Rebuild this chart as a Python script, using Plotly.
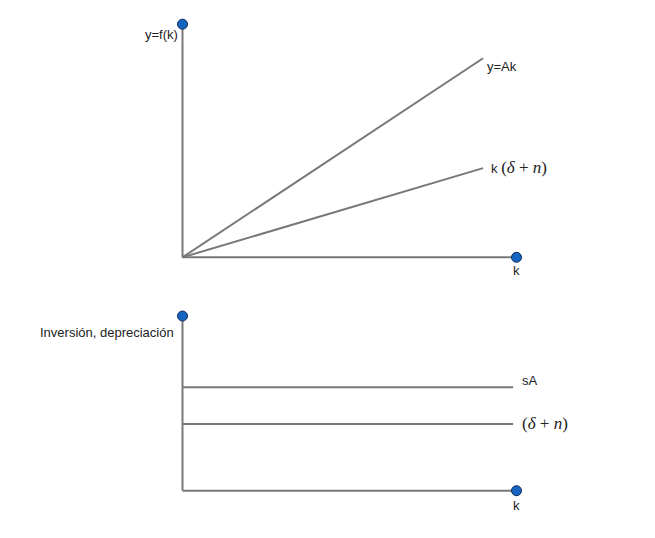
import plotly.graph_objects as go

# ---- data (abstract units) ----
k_top = [0, 9.0]
y_Ak = [0, 5.96]          # y = A k
y_dn = [0, 2.67]          # k (delta + n)
top_yaxis_len = 6.98
top_xaxis_len = 10.0

k_bot = [0, 9.9]
sA_level = [3.1, 3.1]
dn_level = [2.0, 2.0]
bot_yaxis_len = 5.23
bot_xaxis_len = 10.0

W, H = 655, 538
PX = 33.4                  # pixels per unit
OFF = 8                    # page body margin
ox_px = 182.5 - OFF
oy_top_px = 257.3 - OFF
oy_bot_px = 490.7 - OFF

GRAY = "#787878"
BLUE = "#1565C0"
TXT = "#222222"

fig = go.Figure()

def seg(x, y, yaxis="y"):
    fig.add_trace(go.Scatter(x=x, y=y, mode="lines", yaxis=yaxis,
                             line=dict(color=GRAY, width=2), hoverinfo="skip",
                             showlegend=False))

def pt(x, y, yaxis="y"):
    fig.add_trace(go.Scatter(x=[x], y=[y], mode="markers", yaxis=yaxis,
                             marker=dict(color=BLUE, size=10,
                                         line=dict(color="#0d2a5c", width=1)),
                             hoverinfo="skip", showlegend=False))

# top panel
seg([0, 0], [0, top_yaxis_len])
seg([0, top_xaxis_len], [0, 0])
seg(k_top, y_Ak)
seg(k_top, y_dn)
pt(0, top_yaxis_len)
pt(top_xaxis_len, 0)

# bottom panel
seg([0, 0], [0, bot_yaxis_len], "y2")
seg([0, bot_xaxis_len], [0, 0], "y2")
seg(k_bot, sA_level, "y2")
seg(k_bot, dn_level, "y2")
pt(0, bot_yaxis_len, "y2")
pt(bot_xaxis_len, 0, "y2")

SERIF = 'Liberation Serif'
dn_txt = f'<span style="font-family:{SERIF};font-size:17px">(<i>δ</i> + <i>n</i>)</span>'

def lab(x, y, text, yref="y", xanchor="left", size=13):
    fig.add_annotation(x=x, y=y, xref="x", yref=yref, text=text, showarrow=False,
                       xanchor=xanchor, yanchor="middle",
                       font=dict(family="Liberation Sans, Arial", size=size, color=TXT))

lab(-0.08, 6.68, "y=f(k)", xanchor="right")
lab(9.07, 5.72, "y=Ak")
lab(9.19, 2.69, "k " + dn_txt)
lab(10.0, -0.39, "k", xanchor="center")

lab(-0.2, 4.75, "Inversión, depreciación", yref="y2", xanchor="right")
lab(10.09, 3.29, "sA", yref="y2")
lab(10.1, 2.0, dn_txt, yref="y2")
lab(10.0, -0.43, "k", yref="y2", xanchor="center")

fig.update_layout(
    width=W, height=H, margin=dict(l=0, r=0, t=0, b=0),
    paper_bgcolor="white", plot_bgcolor="white",
    xaxis=dict(range=[-ox_px / PX, (W - ox_px) / PX], visible=False, domain=[0, 1]),
    yaxis=dict(range=[-(H - oy_top_px) / PX, oy_top_px / PX], visible=False, domain=[0, 1]),
    yaxis2=dict(range=[-(H - oy_bot_px) / PX, oy_bot_px / PX], visible=False,
                overlaying="y", anchor="x"),
    showlegend=False,
)

fig.write_html("out.html", config={"displayModeBar": False})
